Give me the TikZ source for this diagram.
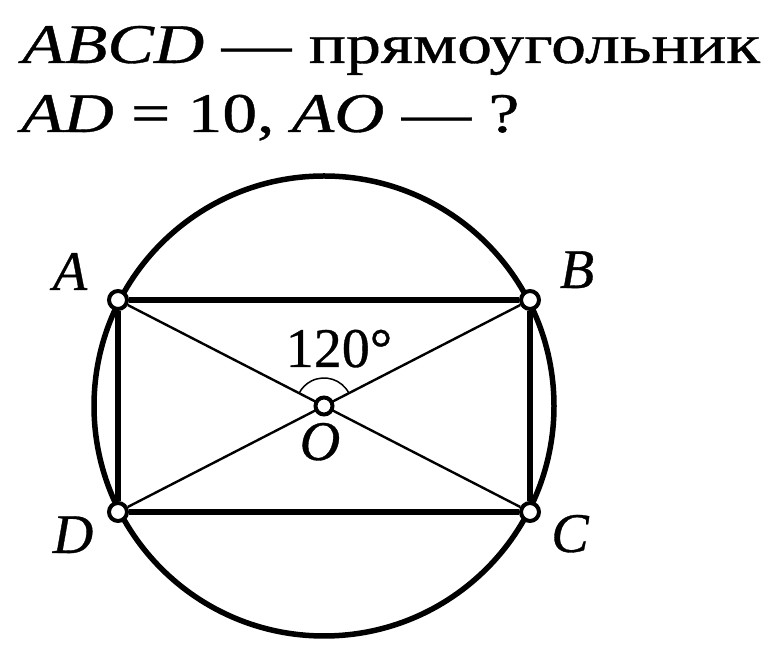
\documentclass[tikz,border=0pt]{standalone}
\usepackage{fontspec}
\setmainfont{Liberation Serif}[FakeBold=0.6]
\usetikzlibrary{backgrounds}
\begin{document}
\begin{tikzpicture}[x=1pt,y=1pt,
  pt/.style={circle,draw,fill=white,line width=4pt,inner sep=0pt,minimum size=18pt},
  thickline/.style={line width=5.5pt},
  diag/.style={line width=2.4pt},
  lbl/.style={anchor=base,inner sep=0pt,font=\fontsize{56}{60}\selectfont\itshape},
  txt/.style={anchor=base west,inner sep=0pt,font=\fontsize{56}{60}\selectfont}]
\useasboundingbox (0,0) rectangle (784,652);
\node[pt] (A) at (118,352) {};
\node[pt] (B) at (530,352) {};
\node[pt] (C) at (530,140) {};
\node[pt] (D) at (118,140) {};
\node[pt,minimum size=17pt] (O) at (324,246) {};
\begin{scope}[on background layer]
  \draw[thickline] (O.center) circle (230pt);
  \draw[thickline] (A) -- (B) -- (C) -- (D) -- (A);
  \draw[diag] (A) -- (C);
  \draw[diag] (B) -- (D);
  \draw[line width=1.5pt] ([shift={(27.2:28pt)}]O.center) arc[start angle=27.2,end angle=152.8,radius=28pt];
\end{scope}
\node[lbl] (lA) at (70,362) {A};
\node[lbl] (lB) at (577,364) {B};
\node[lbl] (lC) at (570,100) {C};
\node[lbl] (lD) at (73,99) {D};
\node[lbl] (lO) at (320,192) {O};
\node[lbl,font=\fontsize{56}{60}\selectfont] (ang) at (339,285) {120°};
\node[txt] (t1) at (22,589) {\scalebox{1.245}[1]{\textit{ABCD} — прямоугольник}};
\node[txt] (t2) at (21,520) {\scalebox{1.24}[1]{\textit{AD} = 10, \textit{AO} — ?}};
\end{tikzpicture}
\end{document}
